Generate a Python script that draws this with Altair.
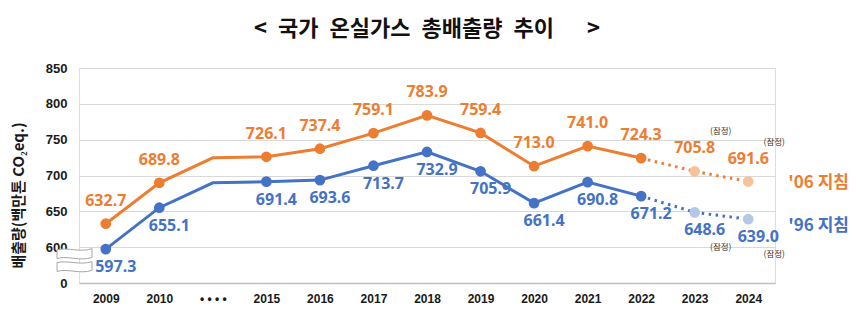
import altair as alt
import pandas as pd

# ---- data ----
years = ["2009", "2010", "• • • •", "2015", "2016", "2017", "2018",
         "2019", "2020", "2021", "2022", "2023", "2024"]
ipcc2006 = [632.7, 689.8, 724.7, 726.1, 737.4, 759.1, 783.9, 759.4, 713.0, 741.0, 724.3, 705.8, 691.6]
ipcc1996 = [597.3, 655.1, 689.8, 691.4, 693.6, 713.7, 732.9, 705.9, 661.4, 690.8, 671.2, 648.6, 639.0]
series_names = ["'06 지침", "'96 지침"]
gap_label = "• • • •"
provisional_years = ["2023", "2024"]
provisional_text = "(잠정)"
y_ticks = [550, 600, 650, 700, 750, 800, 850]
break_marks = [591, 573]
title_text = "<\u2002국가\u2002온실가스\u2002총배출량\u2002추이\u2003\u2002>"
y_title = "배출량(백만톤 CO₂eq.)"

rows = []
for s, vals in zip(series_names, [ipcc2006, ipcc1996]):
    for i, (yr, v) in enumerate(zip(years, vals)):
        status = "gap" if yr == gap_label else ("prov" if yr in provisional_years else "actual")
        rows.append(dict(year=yr, series=s, value=v, idx=i, status=status,
                         note=provisional_text if status == "prov" else ""))
df = pd.DataFrame(rows)
break_df = pd.DataFrame({"value": break_marks})

styles = {
    "'06 지침": dict(color="#ED7D31", light="#F6C29C", dx=0, dy=-23, pdx=26, pdy=-40, ndy=1),
    "'96 지침": dict(color="#4472C4", light="#B4C7E7", dx=10, dy=18, pdx=26, pdy=35, ndy=7),
}

KR = "Noto Sans CJK KR"

x_enc = alt.X("year:N", sort=years, scale=alt.Scale(type="point", padding=0.5),
              axis=alt.Axis(title=None, labelAngle=0, labelFont="Liberation Sans",
                            labelFontWeight="bold", labelFontSize=12, labelColor="#1a1a1a",
                            labelPadding=10, domainColor="#BFBFBF", domainWidth=1.5,
                            ticks=False, tickSize=0, grid=False, labelOverlap=False))
y_enc = alt.Y("value:Q", scale=alt.Scale(domain=[550, 850], nice=False, zero=False),
              axis=alt.Axis(title=y_title, values=y_ticks, labelOverlap=False,
                            labelExpr="datum.value == 550 ? '0' : datum.label",
                            grid=True, gridColor="#D9D9D9", gridWidth=1,
                            domain=False, ticks=False, tickSize=0, labelPadding=12,
                            labelFont="Liberation Sans", labelFontWeight="bold",
                            labelFontSize=13, labelColor="#1a1a1a",
                            titleFont=KR, titleFontSize=15, titleFontWeight="bold",
                            titleColor="#1a1a1a", titleAngle=270, titleX=-61, titleY=127,
                            titleAlign="center", titleBaseline="middle"))

base = alt.Chart(df).encode(x=x_enc, y=y_enc)

layers = []
for s in series_names:
    st = styles[s]
    b = base.transform_filter(alt.datum.series == s)
    layers.append(b.transform_filter("datum.idx <= 10").mark_line(
        color=st["color"], strokeWidth=3))
    layers.append(b.transform_filter("datum.idx >= 10").mark_line(
        color=st["color"], strokeWidth=3, strokeDash=[2.5, 4.5]))
    layers.append(b.transform_filter("datum.status == 'actual'").mark_circle(
        color=st["color"], size=115, opacity=1))
    layers.append(b.transform_filter("datum.status == 'prov'").mark_circle(
        color=st["light"], size=115, opacity=1))
    layers.append(b.transform_filter("datum.status != 'gap'").mark_text(
        color=st["color"], font="Noto Sans", fontSize=16, fontWeight="bold",
        dx=st["dx"], dy=st["dy"]).encode(text=alt.Text("value:Q", format=".1f")))
    layers.append(b.transform_filter("datum.status == 'prov'").mark_text(
        color="#333333", font=KR, fontSize=8.5, dx=st["pdx"], dy=st["pdy"]
    ).encode(text="note:N"))
    layers.append(b.transform_filter("datum.idx == 12").mark_text(
        color=st["color"], font=KR, fontSize=17, fontWeight="bold", align="left",
        dx=40, dy=st["ndy"]).encode(text="series:N"))

wave = "M -1 -0.22 C -0.4 -0.38 0.3 -0.05 1 -0.28 L 1 0.22 C 0.3 0.45 -0.4 0.1 -1 0.28 Z"
brk = alt.Chart(break_df).mark_point(
    shape=wave, size=1225, filled=True, fill="white", stroke="#A6A6A6",
    strokeWidth=1, opacity=1, fillOpacity=1, strokeOpacity=1
).encode(x=alt.value(-4.5), y=y_enc)

chart = alt.layer(*layers, brk).properties(
    width=696, height=215,
    autosize=alt.AutoSizeParams(type="none"),
    padding={"left": 79, "top": 68, "right": 85, "bottom": 45},
    title=alt.TitleParams(text=title_text, font=KR, fontSize=22, fontWeight="bold",
                          color="#111111", anchor="middle", frame="group",
                          baseline="alphabetic", offset=4),
).configure_view(stroke=None).configure(background="white")

chart.save("out.html", embed_options={"renderer": "svg", "actions": False})
